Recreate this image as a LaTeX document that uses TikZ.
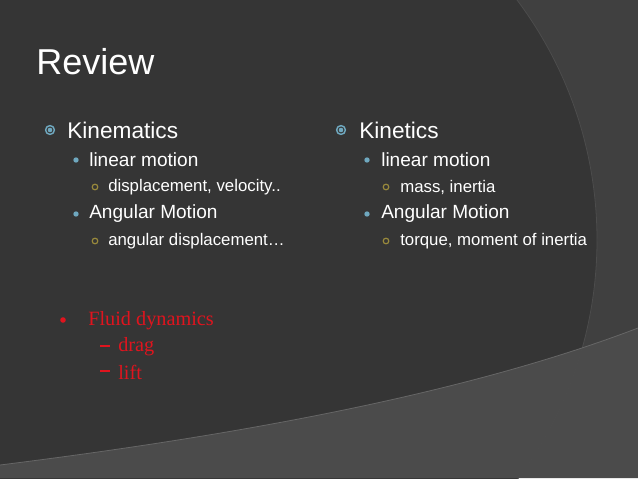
\documentclass[tikz,border=0pt]{standalone}
\usepackage{fontspec}
\setmainfont{Liberation Sans}
\newfontfamily\serifff{Liberation Serif}
\begin{document}
\begin{tikzpicture}[x=0.75pt,y=-0.75pt,
  txt/.style={anchor=west,text=white,inner sep=0pt},
  lone/.style={txt,font=\fontsize{17}{20}\selectfont},
  ltwo/.style={txt,font=\fontsize{14.3}{17}\selectfont},
  lthree/.style={txt,font=\fontsize{12.6}{15}\selectfont},
  red/.style={anchor=west,inner sep=0pt,text=fluidred,font=\serifff\fontsize{15.2}{17}\selectfont}]
\definecolor{bgA}{HTML}{353535}
\definecolor{bgB}{HTML}{404040}
\definecolor{bgC}{HTML}{4B4B4B}
\definecolor{bulA}{HTML}{6FA8BF}
\definecolor{bulB}{HTML}{9A8A3C}
\definecolor{fluidred}{HTML}{E0141E}
\useasboundingbox (0,0) rectangle (638,478);
\clip (0,0) rectangle (638,478);
\fill[bgB] (0,0) rectangle (638,478);
\fill[bgA] (197,240) circle (400);
\fill[bgC] (0,465) .. controls (200,440) and (450,400) .. (638,328) -- (638,478) -- (0,478) -- cycle;
\draw[black!70,line width=0.6pt] (197,240) circle (400);
\draw[black!60,line width=0.6pt] (0,465) .. controls (200,440) and (450,400) .. (638,328);
\node[txt,font=\fontsize{27}{30}\selectfont] (title) at (36,62) {Review};
\foreach \x in {50,341}{
  \draw[bulA,line width=1.1pt] (\x,130) circle (4.4);
  \fill[bulA] (\x,130) circle (2.3);
}
\foreach \x in {76,367}{\fill[bulA] (\x,160) circle (2.7); \fill[bulA] (\x,214) circle (2.7);}
\foreach \x in {95,386}{\draw[bulB,line width=0.9pt] (\x,187) circle (2.8); \draw[bulB,line width=0.9pt] (\x,241) circle (2.8);}
\node[lone] (k1) at (67,130) {Kinematics};
\node[ltwo] (k2) at (89,160) {linear motion};
\node[lthree] (k3) at (108,187) {displacement, velocity..};
\node[ltwo] (k4) at (89,214) {Angular Motion};
\node[lthree] (k5) at (108,241) {angular displacement…};
\node[lone] (n1) at (359,130) {Kinetics};
\node[ltwo] (n2) at (381,160) {linear motion};
\node[lthree] (n3) at (400,187) {mass, inertia};
\node[ltwo] (n4) at (381,214) {Angular Motion};
\node[lthree] (n5) at (400,241) {torque, moment of inertia};
\fill[fluidred] (63,320) circle (2.8);
\draw[fluidred,line width=0.9pt] (100,346) -- (110,346);
\draw[fluidred,line width=0.9pt] (100,371) -- (110,371);
\node[red] (f1) at (88,321) {Fluid dynamics};
\node[red] (d1) at (118,347) {drag};
\node[red] (l1) at (118,372) {lift};
\end{tikzpicture}
\end{document}
